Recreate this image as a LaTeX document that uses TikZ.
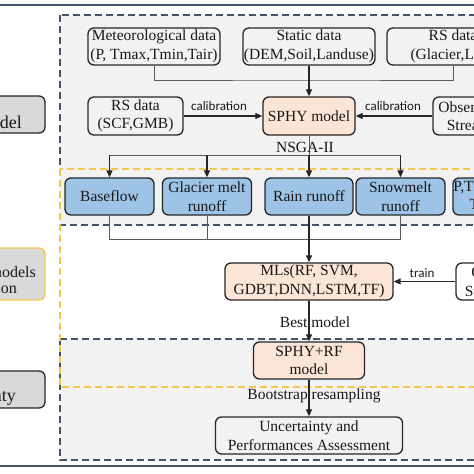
\documentclass[tikz,border=0pt]{standalone}
\usepackage{fontspec}
\setmainfont{Liberation Serif}
\newfontfamily\carl{Carlito}
\usetikzlibrary{arrows.meta}
\definecolor{peach}{HTML}{FBE5D6}
\definecolor{blu}{HTML}{9DC3E6}
\definecolor{bgc}{HTML}{F2F2F2}
\definecolor{framec}{HTML}{44546A}
\definecolor{ylw}{HTML}{F2C84B}
\definecolor{lboxc}{HTML}{D9D9D9}
\begin{document}
\begin{tikzpicture}[x=1pt,y=-1pt,
  every node/.style={text=black!90},
  box/.style={draw=black!85, line width=1.3pt, rounded corners=6pt, align=center, inner sep=0pt, font=\fontsize{15.5}{18.5}\selectfont},
  pbox/.style={box, fill=peach},
  bbox/.style={box, fill=blu},
  lbl/.style={inner sep=0pt, font=\fontsize{15.5}{18}\selectfont},
  slbl/.style={inner sep=0pt, font=\carl\fontsize{13}{15}\selectfont},
  conn/.style={draw=black!65, line width=1pt},
  arr/.style={draw=black!85, line width=1.2pt, -{Triangle[length=7pt,width=6pt]}},
  side/.style={draw=black!85, line width=1.3pt, rounded corners=6pt, fill=lboxc, inner sep=0pt},
  sidetxt/.style={inner sep=0pt, font=\fontsize{18}{20}\selectfont},
  sidetxtb/.style={inner sep=0pt, font=\fontsize{16}{17}\selectfont},
  ddash/.style={draw=framec, line width=1.3pt, dash pattern=on 7pt off 4pt},
  ydash/.style={draw=ylw, line width=1.3pt, dash pattern=on 7pt off 4pt},
  framel/.style={draw=framec, line width=2pt}
]
\useasboundingbox (0,0) rectangle (474,474);
\clip (0,0) rectangle (474,474);

% backgrounds
\fill[bgc] (60,15) rectangle (520,225);
\fill[bgc] (60,339) rectangle (520,460);
\draw[ddash] (60,15) rectangle (520,225);
\draw[ddash] (60,339) rectangle (520,460);
\draw[ydash] (60,169) rectangle (520,387);
\draw[framel] (-5,5) -- (480,5);
\draw[framel] (-5,466) -- (480,466);

% left side boxes
\node[side, minimum width=150pt, minimum height=37pt] (l1) at (-30,114.5) {};
\node[sidetxt, anchor=base east] (l1t) at (22,128) {Hydrological model};
\node[side, draw=ylw, minimum width=150pt, minimum height=52pt] (l2) at (-30,274) {};
\node[sidetxtb, anchor=base east] (l2a) at (36,277) {Hybrid models};
\node[sidetxtb, anchor=base east] (l2b) at (17,293) {comparison};
\node[side, minimum width=150pt, minimum height=37pt] (l3) at (-30,389.5) {};
\node[sidetxt, anchor=base east] (l3t) at (16,401) {Uncertainty};

% top row
\node[box, minimum width=132pt, minimum height=37pt] (met) at (154,46.5) {Meteorological data\\(P, Tmax,Tmin,Tair)};
\node[box, minimum width=132pt, minimum height=37pt] (stat) at (309,46.5) {Static data\\(DEM,Soil,Landuse)};
\node[box, minimum width=132pt, minimum height=37pt] (rsg) at (453,46.5) {RS data\\(Glacier,LAI)};

% second row
\node[box, minimum width=95pt, minimum height=38pt] (rss) at (135.5,116) {RS data\\(SCF,GMB)};
\node[pbox, minimum width=92pt, minimum height=38pt] (sphy) at (309,116) {SPHY model};
\node[box, minimum width=100pt, minimum height=38pt] (obs) at (483,116) {Observed data\\Streamflow};

\coordinate (j1) at (309,80);
\draw[conn] (met.south) |- (j1) -| (rsg.south);
\draw[arr] (stat.south) -- (sphy.north);
\draw[arr] (rss.east) -- (sphy.west);
\draw[arr] (obs.west) -- (sphy.east);
\node[slbl] (cal1) at (219,106) {calibration};
\node[slbl] (cal2) at (393,106) {calibration};

% component boxes
\node[bbox, minimum width=89pt, minimum height=37pt] (base) at (109.5,196.5) {Baseflow};
\node[bbox, minimum width=89pt, minimum height=37pt] (glac) at (207,196.5) {Glacier melt\\runoff};
\node[bbox, minimum width=88pt, minimum height=37pt] (rain) at (309,196.5) {Rain runoff};
\node[bbox, minimum width=89pt, minimum height=37pt] (snow) at (400.5,196.5) {Snowmelt\\runoff};
\node[bbox, minimum width=89pt, minimum height=37pt] (ptb) at (497.5,196.5) {P,Tmax,Tmin,\\Tair,SCF};

\coordinate (b1) at (309,155);
\draw[conn] (sphy.south) -- (b1);
\draw[conn] (base.north |- b1) -- (snow.north |- b1);
\draw[arr] (base.north |- b1) -- (base.north);
\draw[arr] (glac.north |- b1) -- (glac.north);
\draw[arr] (b1) -- (rain.north);
\draw[arr] (snow.north |- b1) -- (snow.north);
\node[lbl] (nsga) at (305,147) {NSGA-II};

\coordinate (b2) at (309,239);
\draw[conn] (base.south) -- (base.south |- b2) -- (snow.south |- b2) -- (snow.south);
\draw[conn] (glac.south) -- (glac.south |- b2);

% ML
\node[pbox, minimum width=168pt, minimum height=37pt] (mls) at (309,281.5) {MLs(RF, SVM,\\GDBT,DNN,LSTM,TF)};
\node[box, minimum width=90pt, minimum height=37pt] (trn) at (501,281.5) {Observed\\Streamflow};
\draw[arr] (rain.south) -- (mls.north);
\draw[arr] (trn.west) -- (mls.east);
\node[slbl] (trl) at (422,273) {train};

\node[pbox, minimum width=111pt, minimum height=37pt] (srf) at (309,360.5) {SPHY+RF\\model};
\draw[arr] (mls.south) -- (srf.north);
\node[lbl] (best) at (315,322) {Best model};

\node[box, minimum width=187pt, minimum height=37pt] (unc) at (309,435.5) {Uncertainty and\\Performances Assessment};
\draw[arr] (srf.south) -- (unc.north);
\node[lbl] (boot) at (314,396) {Bootstrap resampling};
\end{tikzpicture}
\end{document}
